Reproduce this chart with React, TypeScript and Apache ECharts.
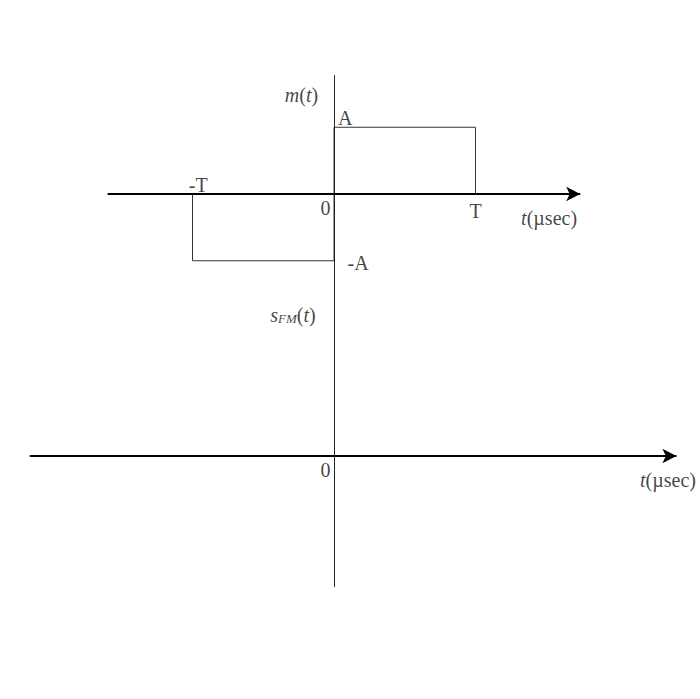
import { useEffect, useRef } from "react";
import * as echarts from "echarts";

// units: t in T, amplitude in A
const stepT = [-1, -1, 0, 0, 1, 1];
const stepM = [0, -1, -1, 1, 1, 0];

const topAxisT = [-1.6, 1.74];
const bottomAxisT = [-2.15, 2.42];
const bottomAxisY = -3.925;
const vertAxisY = [1.78, -5.89];

const labelTexts = ["{i|m}({i|t})", "A", "-T", "0", "T", "{i|t}(\u00b5sec)", "-A", "{i|s}{sub|FM}({i|t})", "0", "{i|t}(\u00b5sec)"];
const labelT = [-0.23, 0.08, -0.96, -0.06, 1.0, 1.52, 0.17, -0.29, -0.06, 2.36];
const labelY = [1.48, 1.14, 0.13, -0.21, -0.25, -0.36, -1.03, -1.81, -4.14, -4.29];

const X_MIN = -334 / 141.5;
const X_MAX = (700 - 334) / 141.5;
const Y_MAX = 194 / 66.75;
const Y_MIN = -(699 - 194) / 66.75;

export default function App() {
  const ref = useRef<HTMLDivElement>(null);

  useEffect(() => {
    const el = ref.current;
    if (!el) return;
    const chart = echarts.init(el, undefined, { renderer: "svg" });
    const serif = "Liberation Serif";
    const rich = {
      i: { fontStyle: "italic", fontFamily: serif, fontSize: 20, color: "#111" },
      sub: { fontStyle: "italic", fontFamily: serif, fontSize: 13, color: "#111", verticalAlign: "bottom", padding: [7, 0, 0, 0] },
    };
    chart.setOption({
      animation: false,
      backgroundColor: "#fff",
      grid: { left: 0, right: 0, top: 0, bottom: 0 },
      xAxis: { type: "value", min: X_MIN, max: X_MAX, show: false },
      yAxis: { type: "value", min: Y_MIN, max: Y_MAX, show: false },
      series: [
        {
          type: "line",
          data: [],
          silent: true,
          markLine: {
            silent: true,
            animation: false,
            label: { show: false },
            symbol: ["none", "arrow"],
            symbolSize: [11, 14],
            lineStyle: { color: "#000", width: 2, type: "solid" },
            data: [
              [{ coord: [topAxisT[0], 0] }, { coord: [topAxisT[1], 0] }],
              [{ coord: [bottomAxisT[0], bottomAxisY] }, { coord: [bottomAxisT[1], bottomAxisY] }],
            ],
          },
        },
        {
          type: "line",
          data: [],
          silent: true,
          markLine: {
            silent: true,
            animation: false,
            label: { show: false },
            symbol: ["none", "none"],
            lineStyle: { color: "#222", width: 1, type: "solid" },
            data: [[{ coord: [0, vertAxisY[0]] }, { coord: [0, vertAxisY[1]] }]],
          },
        },
        {
          type: "line",
          data: stepT.map((t, i) => [t, stepM[i]]),
          showSymbol: false,
          silent: true,
          lineStyle: { color: "#333", width: 1 },
        },
        {
          type: "scatter",
          symbolSize: 0,
          silent: true,
          data: labelT.map((t, i) => ({
            value: [t, labelY[i]],
            label: {
              show: true,
              position: "inside",
              formatter: labelTexts[i],
              fontFamily: serif,
              fontSize: 20,
              color: "#111",
              rich,
            },
          })),
        },
      ],
    });
    return () => chart.dispose();
  }, []);

  return (
    <div
      ref={ref}
      style={{ position: "fixed", left: 0, top: 0, width: 700, height: 699, background: "#fff" }}
    />
  );
}
